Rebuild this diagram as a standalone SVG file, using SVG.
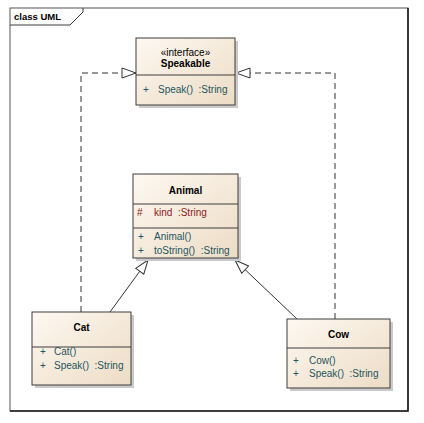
<svg xmlns="http://www.w3.org/2000/svg" width="424" height="423" viewBox="0 0 424 423">
  <style>
    text { font-family: "Liberation Sans", Arial, sans-serif; font-size: 10px; }
    .name { font-weight: bold; fill: #000; text-anchor: middle; }
    .stereo { fill: #000; text-anchor: middle; }
    .op { fill: #1f5560; }
    .attr { fill: #8b1a1a; }
    .box { fill: url(#classFill); stroke: #3c3c3c; stroke-width: 1; }
    .shadow { fill: #cacaca; }
    .div { stroke: #3c3c3c; stroke-width: 1; }
    .dep { fill: none; stroke: #333; stroke-width: 1; stroke-dasharray: 6 4; marker-end: url(#hollow); }
    .gen { fill: none; stroke: #333; stroke-width: 1; marker-end: url(#hollow); }
  </style>
  <defs>
    <linearGradient id="classFill" x1="0" y1="0" x2="1" y2="1">
      <stop offset="0" stop-color="#fef8f1"/>
      <stop offset="1" stop-color="#ecdcc5"/>
    </linearGradient>
    <marker id="hollow" viewBox="-1 -1 16 12" refX="14" refY="5" markerWidth="16" markerHeight="12" markerUnits="userSpaceOnUse" orient="auto">
      <path d="M0,0 L14,5 L0,10 Z" fill="#fff" stroke="#333" stroke-width="1"/>
    </marker>
  </defs>

  <rect width="424" height="423" fill="#fff"/>

  <g id="frame">
    <rect x="10" y="8" width="398" height="403" fill="#fff" stroke="#555" stroke-width="1"/>
    <path d="M408,8 V411 H10" fill="none" stroke="#1a1a1a" stroke-width="1.6"/>
    <path d="M10,25 H70 L83,12 V8" fill="none" stroke="#3a3a3a" stroke-width="1"/>
    <text x="14" y="20" style="font-weight:bold;font-size:9.5px" fill="#000">class UML</text>
  </g>

  <g id="connectors">
    <path class="dep" d="M81,312 V73 H136"/>
    <path class="dep" d="M335,319 V73 H236"/>
    <path class="gen" d="M110,312 L148,260"/>
    <path class="gen" d="M297,319 L235,260"/>
  </g>

  <g id="Speakable">
    <rect class="shadow" x="139" y="41" width="99" height="67"/>
    <rect class="box" x="136" y="38" width="99" height="67"/>
    <line class="div" x1="136" y1="75" x2="235" y2="75"/>
    <text class="stereo" x="185.5" y="56">«interface»</text>
    <text class="name" x="185.5" y="67">Speakable</text>
    <text class="op" x="143" y="93">+</text>
    <text class="op" x="158" y="93" xml:space="preserve">Speak()  :String</text>
  </g>

  <g id="Animal">
    <rect class="shadow" x="136" y="177" width="105" height="84"/>
    <rect class="box" x="133" y="174" width="105" height="84"/>
    <line class="div" x1="133" y1="204" x2="238" y2="204"/>
    <line class="div" x1="133" y1="228" x2="238" y2="228"/>
    <text class="name" x="185.5" y="193.5">Animal</text>
    <text class="attr" x="137" y="216">#</text>
    <text class="attr" x="154" y="216" xml:space="preserve">kind  :String</text>
    <text class="op" x="138" y="240">+</text>
    <text class="op" x="154" y="240">Animal()</text>
    <text class="op" x="138" y="254">+</text>
    <text class="op" x="154" y="254" xml:space="preserve">toString()  :String</text>
  </g>

  <g id="Cat">
    <rect class="shadow" x="35" y="315" width="99" height="73"/>
    <rect class="box" x="32" y="312" width="99" height="73"/>
    <line class="div" x1="32" y1="347" x2="131" y2="347"/>
    <text class="name" x="81.5" y="331">Cat</text>
    <text class="op" x="40" y="355">+</text>
    <text class="op" x="54" y="355">Cat()</text>
    <text class="op" x="40" y="369">+</text>
    <text class="op" x="54" y="369" xml:space="preserve">Speak()  :String</text>
  </g>

  <g id="Cow">
    <rect class="shadow" x="290" y="322" width="103" height="69"/>
    <rect class="box" x="287" y="319" width="103" height="69"/>
    <line class="div" x1="287" y1="348" x2="390" y2="348"/>
    <text class="name" x="338.5" y="337.5">Cow</text>
    <text class="op" x="293" y="364">+</text>
    <text class="op" x="309" y="364">Cow()</text>
    <text class="op" x="293" y="377">+</text>
    <text class="op" x="309" y="377" xml:space="preserve">Speak()  :String</text>
  </g>
</svg>
